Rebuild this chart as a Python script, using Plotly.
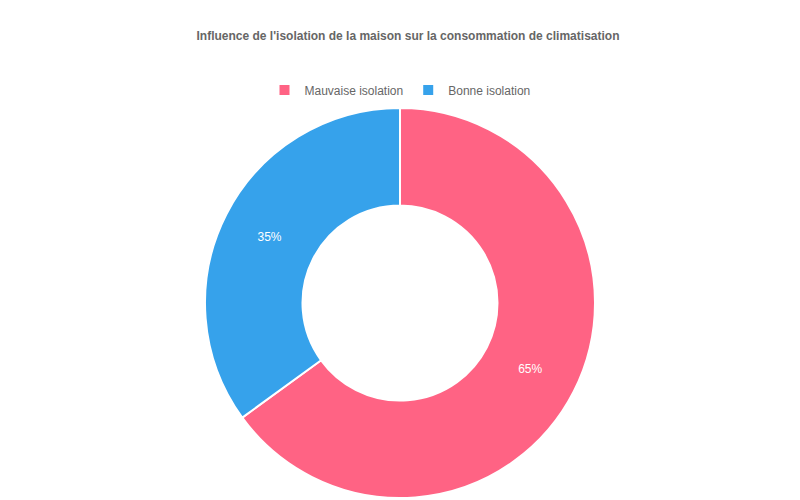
import plotly.graph_objects as go

labels = ["Mauvaise isolation", "Bonne isolation"]
values = [65, 35]
colors = ["#FF6384", "#36A2EB"]

fig = go.Figure(go.Pie(
    labels=labels, values=values, hole=0.5, sort=False,
    direction="clockwise", rotation=0,
    marker=dict(colors=colors, line=dict(color="white", width=2)),
    textinfo="percent", texttemplate="%{percent:.0%}",
    textfont=dict(color="white", size=12, family="Liberation Sans"),
    insidetextorientation="horizontal",
))
fig.update_layout(
    width=800, height=500,
    margin=dict(t=100, b=10, l=0, r=16),
    paper_bgcolor="white",
    font=dict(family="Liberation Sans", color="#666", size=12),
    title=dict(text="<b>Influence de l'isolation de la maison sur la consommation de climatisation</b>",
               x=0.5, xanchor="center", y=1 - 28/500, yanchor="middle",
               font=dict(size=12, color="#666")),
    legend=dict(orientation="h", x=0.5, xanchor="center", y=1.046, yanchor="middle",
                font=dict(size=12, color="#666")),
)
fig.write_html("out.html")
